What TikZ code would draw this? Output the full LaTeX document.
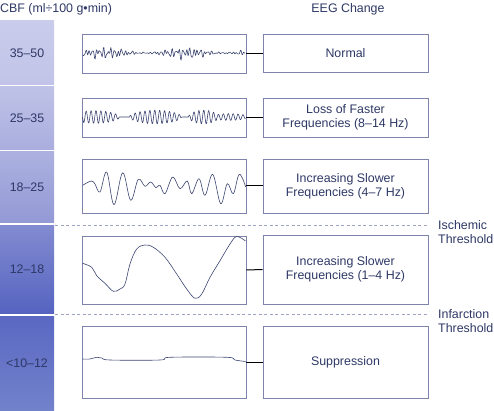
\documentclass[tikz,border=0pt]{standalone}
\usepackage{fontspec}
\setmainfont{Liberation Sans}
\usetikzlibrary{positioning}
\definecolor{inkblue}{HTML}{2E3866}
\definecolor{boxline}{HTML}{7E83AC}
\definecolor{traceblue}{HTML}{3B4470}
\definecolor{dashgray}{HTML}{A0A4C4}
\definecolor{bandAt}{HTML}{CACCEC}
\definecolor{bandAb}{HTML}{C1C4E8}
\definecolor{bandBt}{HTML}{BFC2E7}
\definecolor{bandBb}{HTML}{A9AEDE}
\definecolor{bandCt}{HTML}{ACB1E0}
\definecolor{bandCb}{HTML}{9399D5}
\definecolor{bandDt}{HTML}{828BD0}
\definecolor{bandDb}{HTML}{5564C0}
\definecolor{bandEt}{HTML}{5A68C2}
\definecolor{bandEb}{HTML}{7282CB}

\begin{document}
\begin{tikzpicture}[
    x=1pt,
    y=-1pt,
    every node/.style={font=\fontsize{12.4}{14}\selectfont, text=inkblue},
    band/.style={minimum width=54pt, inner sep=0pt, outer sep=0pt},
    eegbox/.style={draw=boxline, line width=0.8pt, minimum width=164pt, inner sep=0pt},
    chgbox/.style={draw=boxline, line width=0.8pt, minimum width=165pt, inner sep=0pt, align=center},
    trace/.style={draw=traceblue, line width=0.6pt, line join=round},
    link/.style={draw=black, line width=1pt},
    threshold/.style={draw=dashgray, line width=0.8pt, dash pattern=on 3pt off 2.5pt},
    thlabel/.style={anchor=west, align=left, inner sep=0pt}
  ]
    \useasboundingbox (0,0) rectangle (494,411);

    % CBF column, one shaded band per flow range.
    \node[band, minimum height=64pt, top color=bandAt, bottom color=bandAb] (cbf1) at (27,53) {35–50};
    \node[band, minimum height=63pt, top color=bandBt, bottom color=bandBb] (cbf2) at (27,118.5) {25–35};
    \node[band, minimum height=71pt, top color=bandCt, bottom color=bandCb] (cbf3) at (27,187.5) {18–25};
    \node[band, minimum height=87pt, top color=bandDt, bottom color=bandDb] (cbf4) at (27,269.5) {12–18};
    \node[band, minimum height=95pt, top color=bandEt, bottom color=bandEb] (cbf5) at (27,363.5) {<10–12};

    % Headings.
    \node[anchor=west, inner sep=0pt] (cbfhead) at (0,9) {CBF (ml÷100 g•min)};
    \node (eeghead) at (348,9) {EEG Change};

    % EEG trace boxes.
    \node[eegbox, minimum height=39pt] (eeg1) at (164,53.5) {};
    \node[eegbox, minimum height=39pt] (eeg2) at (164,117.5) {};
    \node[eegbox, minimum height=54pt] (eeg3) at (164,186) {};
    \node[eegbox, minimum height=68pt] (eeg4) at (164,270) {};
    \node[eegbox, minimum height=72pt] (eeg5) at (164,362) {};

    % EEG change boxes.
    \node[chgbox, minimum height=38pt] (chg1) at (345.5,53.5) {Normal};
    \node[chgbox, minimum height=39pt] (chg2) at (345.5,117.5) {Loss of Faster\\Frequencies (8–14 Hz)};
    \node[chgbox, minimum height=54pt] (chg3) at (345.5,186) {Increasing Slower\\Frequencies (4–7 Hz)};
    \node[chgbox, minimum height=69pt] (chg4) at (345.5,269.5) {Increasing Slower\\Frequencies (1–4 Hz)};
    \node[chgbox, minimum height=72pt] (chg5) at (345.5,362) {Suppression};

    \foreach \i in {1,...,5} {
      \draw[link] (eeg\i.east) -- (chg\i.west);
    }

    % Traces.
    \draw[trace] plot[domain=0:162, samples=280] ({83+\x}, {53+(1.9+1.5*sin(4.5*mod(\x+78,80)))
      *(0.9*sin(100*mod(\x,3.6))+0.6*sin(63.158*mod(\x,5.7)+40)
      +0.5*sin(146.94*mod(\x,2.45)+110)+0.35*sin(33.03*mod(\x,10.9)+70))});
    \draw[trace] plot[domain=0:37, samples=70] ({82.5+\x},
        {117+6.5*sin(73.47*mod(\x,4.9))*sqrt(abs(sin(180*(\x+12)/49)))})
      -- plot[domain=47:99, samples=100] ({82.5+\x},
        {117+7*sin(73.47*mod(\x,4.9))*sqrt(abs(sin(180*(\x-47)/52)))})
      -- plot[domain=106:134, samples=55] ({82.5+\x},
        {117+7*sin(73.47*mod(\x,4.9))*sqrt(abs(sin(180*(\x-106)/30)))})
      -- plot[domain=134:163, samples=55] ({82.5+\x},
        {117+3.5*sin(73.47*mod(\x,4.9))*sqrt(abs(sin(180*(\x-128)/38)))});
    \draw[trace] plot[smooth, tension=0.6] coordinates {
      (82.7,185.3) (86.7,183) (91.7,181) (95,184) (100,192) (106.7,172) (114,204.7)
      (122.7,172.7) (130.7,200.3) (138.3,179.3) (145,186.3) (150.7,182) (156,187.7)
      (160,185.3) (165,193.7) (172.7,177) (180,188.7) (187.3,181) (191.7,193.7)
      (199,178.7) (205,195.3) (212.7,174.3) (220.7,203.7) (227.3,183.7) (233.3,193.7)
      (239.3,174.3) (245.7,187)};
    \draw[trace] plot[smooth, tension=0.6] coordinates {
      (82.5,263.3) (91.7,267.3) (96.7,275.7) (105,283.3) (113.3,291.3) (120,289)
      (125,284) (130,264) (136.7,249) (145,245) (153.3,247.3) (165,257.3) (176.7,274)
      (186.7,289) (195,298.3) (201.7,294) (210,277.3) (220,260.7) (230,244)
      (236.7,236.5) (245.5,241)};
    \draw[trace] plot[smooth, tension=0.6] coordinates {
      (82.5,359) (90,359) (96.7,357.3) (102,358) (110,360) (160,360) (170,357.3)
      (226.7,357.3) (235,360) (245.5,361.5)};

    % Thresholds.
    \draw[threshold] (55,225) -- (428,225);
    \draw[threshold] (55,314) -- (428,314);
    \node[thlabel] (ischemic) at (438,232) {Ischemic\\Threshold};
    \node[thlabel] (infarct) at (438,321.5) {Infarction\\Threshold};
  \end{tikzpicture}
\end{document}
